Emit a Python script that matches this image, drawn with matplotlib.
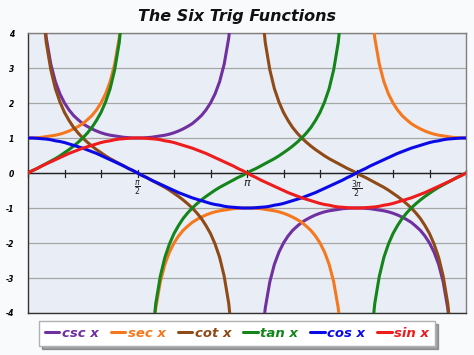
import numpy as np
import matplotlib
matplotlib.use("Agg")
import matplotlib.pyplot as plt

# x positions in steps of pi/48 (3.75 degrees), 0 .. 2*pi
steps = list(range(97))
nan = float("nan")

sin_vals = [0, .07, .13, .20, .26, .32, .38, .44, .50, .56, .61, .66, .71, .75, .79, .83, .87, .90, .92, .95, .97, .98, .99, 1.00, 1.00,
            1.00, .99, .98, .97, .95, .92, .90, .87, .83, .79, .75, .71, .66, .61, .56, .50, .44, .38, .32, .26, .20, .13, .07, 0,
            -.07, -.13, -.20, -.26, -.32, -.38, -.44, -.50, -.56, -.61, -.66, -.71, -.75, -.79, -.83, -.87, -.90, -.92, -.95, -.97, -.98, -.99, -1.00, -1.00,
            -1.00, -.99, -.98, -.97, -.95, -.92, -.90, -.87, -.83, -.79, -.75, -.71, -.66, -.61, -.56, -.50, -.44, -.38, -.32, -.26, -.20, -.13, -.07, 0]
cos_vals = [1.00, 1.00, .99, .98, .97, .95, .92, .90, .87, .83, .79, .75, .71, .66, .61, .56, .50, .44, .38, .32, .26, .20, .13, .07, 0,
            -.07, -.13, -.20, -.26, -.32, -.38, -.44, -.50, -.56, -.61, -.66, -.71, -.75, -.79, -.83, -.87, -.90, -.92, -.95, -.97, -.98, -.99, -1.00, -1.00,
            -1.00, -.99, -.98, -.97, -.95, -.92, -.90, -.87, -.83, -.79, -.75, -.71, -.66, -.61, -.56, -.50, -.44, -.38, -.32, -.26, -.20, -.13, -.07, 0,
            .07, .13, .20, .26, .32, .38, .44, .50, .56, .61, .66, .71, .75, .79, .83, .87, .90, .92, .95, .97, .98, .99, 1.00, 1.00]
tan_vals = [0, .07, .13, .20, .27, .34, .41, .49, .58, .67, .77, .88, 1.00, 1.14, 1.30, 1.50, 1.73, 2.03, 2.41, 2.95, 3.73, 5.03, 7.60, 15.26, nan,
            -15.26, -7.60, -5.03, -3.73, -2.95, -2.41, -2.03, -1.73, -1.50, -1.30, -1.14, -1.00, -.88, -.77, -.67, -.58, -.49, -.41, -.34, -.27, -.20, -.13, -.07, 0,
            .07, .13, .20, .27, .34, .41, .49, .58, .67, .77, .88, 1.00, 1.14, 1.30, 1.50, 1.73, 2.03, 2.41, 2.95, 3.73, 5.03, 7.60, 15.26, nan,
            -15.26, -7.60, -5.03, -3.73, -2.95, -2.41, -2.03, -1.73, -1.50, -1.30, -1.14, -1.00, -.88, -.77, -.67, -.58, -.49, -.41, -.34, -.27, -.20, -.13, -.07, 0]
cot_vals = [nan, 15.26, 7.60, 5.03, 3.73, 2.95, 2.41, 2.03, 1.73, 1.50, 1.30, 1.14, 1.00, .88, .77, .67, .58, .49, .41, .34, .27, .20, .13, .07, 0,
            -.07, -.13, -.20, -.27, -.34, -.41, -.49, -.58, -.67, -.77, -.88, -1.00, -1.14, -1.30, -1.50, -1.73, -2.03, -2.41, -2.95, -3.73, -5.03, -7.60, -15.26, nan,
            15.26, 7.60, 5.03, 3.73, 2.95, 2.41, 2.03, 1.73, 1.50, 1.30, 1.14, 1.00, .88, .77, .67, .58, .49, .41, .34, .27, .20, .13, .07, 0,
            -.07, -.13, -.20, -.27, -.34, -.41, -.49, -.58, -.67, -.77, -.88, -1.00, -1.14, -1.30, -1.50, -1.73, -2.03, -2.41, -2.95, -3.73, -5.03, -7.60, -15.26, nan]
csc_vals = [nan, 15.29, 7.66, 5.13, 3.86, 3.11, 2.61, 2.26, 2.00, 1.80, 1.64, 1.52, 1.41, 1.33, 1.26, 1.20, 1.15, 1.11, 1.08, 1.06, 1.04, 1.02, 1.01, 1.00, 1.00,
            1.00, 1.01, 1.02, 1.04, 1.06, 1.08, 1.11, 1.15, 1.20, 1.26, 1.33, 1.41, 1.52, 1.64, 1.80, 2.00, 2.26, 2.61, 3.11, 3.86, 5.13, 7.66, 15.29, nan,
            -15.29, -7.66, -5.13, -3.86, -3.11, -2.61, -2.26, -2.00, -1.80, -1.64, -1.52, -1.41, -1.33, -1.26, -1.20, -1.15, -1.11, -1.08, -1.06, -1.04, -1.02, -1.01, -1.00, -1.00,
            -1.00, -1.01, -1.02, -1.04, -1.06, -1.08, -1.11, -1.15, -1.20, -1.26, -1.33, -1.41, -1.52, -1.64, -1.80, -2.00, -2.26, -2.61, -3.11, -3.86, -5.13, -7.66, -15.29, nan]
sec_vals = [1.00, 1.00, 1.01, 1.02, 1.04, 1.06, 1.08, 1.11, 1.15, 1.20, 1.26, 1.33, 1.41, 1.52, 1.64, 1.80, 2.00, 2.26, 2.61, 3.11, 3.86, 5.13, 7.66, 15.29, nan,
            -15.29, -7.66, -5.13, -3.86, -3.11, -2.61, -2.26, -2.00, -1.80, -1.64, -1.52, -1.41, -1.33, -1.26, -1.20, -1.15, -1.11, -1.08, -1.06, -1.04, -1.02, -1.01, -1.00, -1.00,
            -1.00, -1.01, -1.02, -1.04, -1.06, -1.08, -1.11, -1.15, -1.20, -1.26, -1.33, -1.41, -1.52, -1.64, -1.80, -2.00, -2.26, -2.61, -3.11, -3.86, -5.13, -7.66, -15.29, nan,
            15.29, 7.66, 5.13, 3.86, 3.11, 2.61, 2.26, 2.00, 1.80, 1.64, 1.52, 1.41, 1.33, 1.26, 1.20, 1.15, 1.11, 1.08, 1.06, 1.04, 1.02, 1.01, 1.00, 1.00]

series_names = ["csc x", "sec x", "cot x", "tan x", "cos x", "sin x"]
series_vals = [csc_vals, sec_vals, cot_vals, tan_vals, cos_vals, sin_vals]
colors = ["#7030a0", "#f5781e", "#8e4a17", "#13851a", "#0a0ae8", "#ee1c1c"]

y_ticks = [4, 3, 2, 1, 0, -1, -2, -3, -4]
x_label_pos = [np.pi / 2, np.pi, 3 * np.pi / 2]
x_label_txt = [r"$\frac{\pi}{2}$", r"$\pi$", r"$\frac{3\pi}{2}$"]

x = np.array(steps) * np.pi / 48

fig = plt.figure(figsize=(4.74, 3.55), dpi=100, facecolor="#f9fafc")
ax = fig.add_axes([28 / 474, 1 - 313 / 355, 438 / 474, 280 / 355])
ax.set_facecolor("#e9edf5")

for name, vals, c in zip(series_names, series_vals, colors):
    ax.plot(x, vals, color=c, lw=2.2, label=name, solid_capstyle="round", zorder=3)

ax.set_xlim(0, 2 * np.pi)
ax.set_ylim(-4, 4)

# gridlines
ax.set_yticks(y_ticks)
ax.set_yticklabels([str(v) for v in y_ticks], fontsize=5.5, fontweight="bold",
                   fontstyle="italic")
ax.yaxis.grid(True, color="#a6a6a6", lw=0.9)
ax.tick_params(axis="y", length=0, pad=10)
ax.set_axisbelow(True)

# x axis at y=0
ax.set_xticks([])
ax.axhline(0, color="#222222", lw=1.0, zorder=2)
for k in range(13):
    ax.plot([k * np.pi / 6] * 2, [-0.1, 0.1], color="#222222", lw=0.9, zorder=2,
            clip_on=False)
for p, t in zip(x_label_pos, x_label_txt):
    ax.text(p, -0.15, t, ha="center", va="top", fontsize=8, color="#222222")

for side in ["left", "bottom"]:
    ax.spines[side].set_color("#333333")
    ax.spines[side].set_linewidth(1.0)
for side in ["top", "right"]:
    ax.spines[side].set_color("#7f7f7f")
    ax.spines[side].set_linewidth(1.0)

fig.text(237 / 474, 1 - 17 / 355, "The Six Trig Functions", ha="center", va="center",
         fontsize=11.5, fontweight="bold", fontstyle="italic", color="#111111")

leg = fig.legend(loc="center", bbox_to_anchor=(237 / 474, 1 - 333.5 / 355), ncol=6,
                 frameon=True, fancybox=False, shadow=True, fontsize=9.5,
                 handlelength=1.1, handletextpad=0.2, columnspacing=0.9,
                 borderpad=0.45, edgecolor="#b0b0b0", framealpha=1)
leg.get_frame().set_facecolor("white")
for txt, c in zip(leg.get_texts(), colors):
    txt.set_color(c)
    txt.set_fontweight("bold")
    txt.set_fontstyle("italic")

fig.savefig("out.png", dpi=100, facecolor=fig.get_facecolor())
